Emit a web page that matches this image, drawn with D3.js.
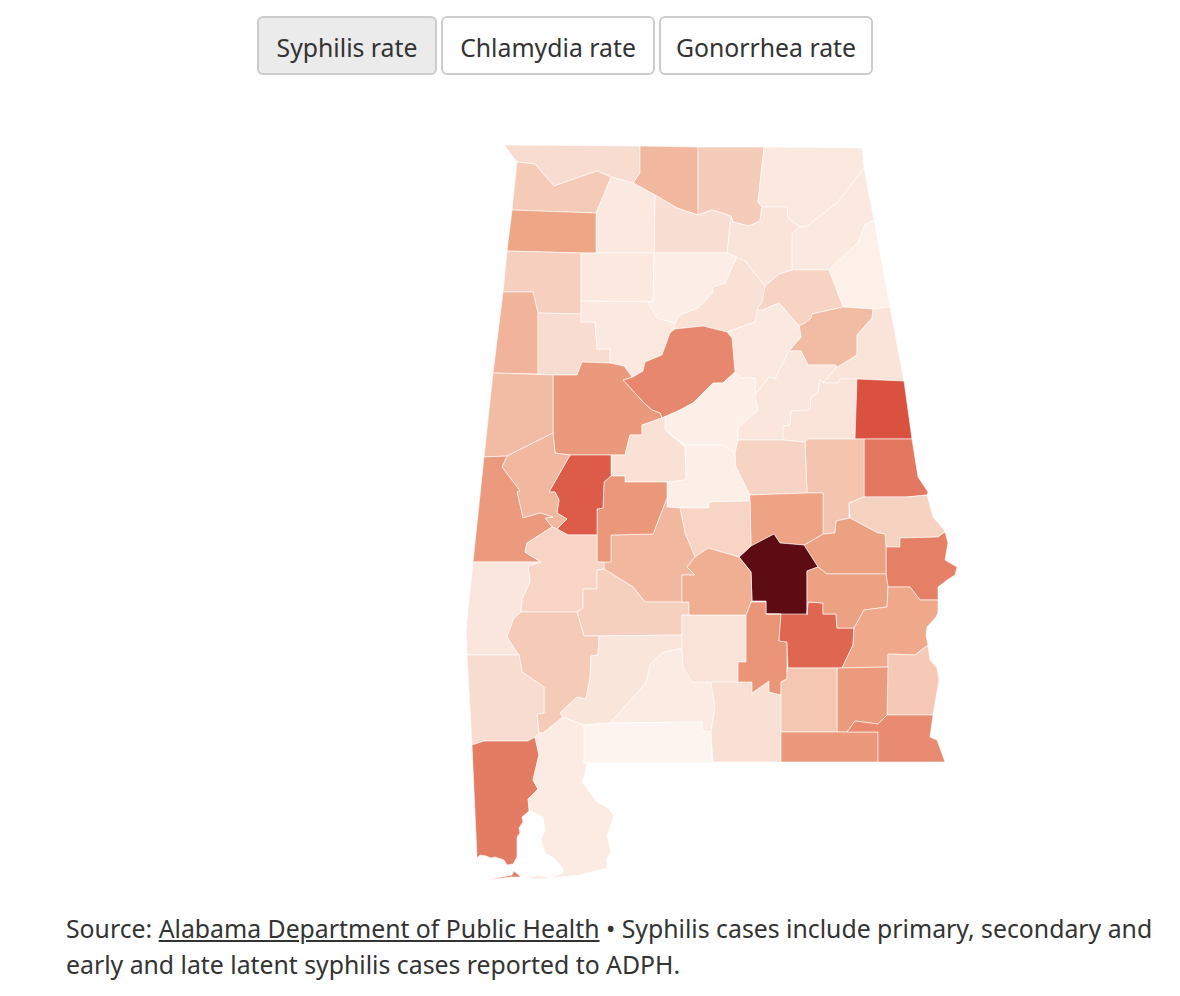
<!DOCTYPE html>
<html>
<head>
<meta charset="utf-8">
<script src="https://cdn.jsdelivr.net/npm/d3@7"></script>
<style>
  body { margin: 0; background: #fff; color: #333; font-family: "Noto Sans", sans-serif; }
  #page { position: relative; width: 1180px; height: 996px; overflow: hidden; }
  #map { position: absolute; left: 0; top: 0; }
  .tab {
    position: absolute; top: 16px; height: 59px; box-sizing: border-box;
    border: 2px solid #ccc; border-radius: 6px; background: #fff;
    color: #333; font: 24.8px "Noto Sans", sans-serif;
    text-align: center; line-height: 58px;
  }
  .tab.active { background: #ebebeb; }
  #note {
    position: absolute; left: 66px; top: 910px; width: 1100px;
    font-size: 24.8px; line-height: 36px; white-space: nowrap;
  }
  #note a { color: #333; text-decoration: underline; }
</style>
</head>
<body>
<div id="page"><svg id="map" width="1180" height="996"></svg><div id="note"></div></div>
<script>
const tabLabels = ['Syphilis rate', 'Chlamydia rate', 'Gonorrhea rate'];
const tabLefts = [257, 441, 659];
const tabWidths = [180, 214, 214];

const countyNames = [
  'Lauderdale', 'Limestone', 'Madison', 'Jackson', 'DeKalb', 'Cherokee', 'Marshall', 'Morgan', 'Lawrence', 'Colbert',
  'Franklin', 'Marion', 'Winston', 'Lamar', 'Fayette', 'Walker', 'Cullman', 'Blount', 'Etowah', 'Calhoun',
  'Cleburne', 'St. Clair', 'Jefferson', 'Tuscaloosa', 'Pickens', 'Shelby', 'Bibb', 'Chilton', 'Talladega', 'Clay',
  'Randolph', 'Chambers', 'Tallapoosa', 'Coosa', 'Lee', 'Russell', 'Macon', 'Elmore', 'Montgomery', 'Autauga',
  'Dallas', 'Perry', 'Hale', 'Greene', 'Sumter', 'Marengo', 'Choctaw', 'Wilcox', 'Clarke', 'Washington',
  'Mobile', 'Baldwin', 'Monroe', 'Conecuh', 'Escambia', 'Butler', 'Covington', 'Crenshaw', 'Pike', 'Bullock',
  'Barbour', 'Henry', 'Dale', 'Coffee', 'Geneva', 'Houston', 'Lowndes'
];

const syphilisRates = [
  6.3, 15.3, 10.3, 3, 3, 1.3, 4.5, 5.5, 3, 10.8,
  19.8, 9.5, 3, 16.5, 6.3, 3, 1.8, 5, 8.5, 14.3,
  4.3, 3, 26.9, 22.8, 14.5, 1.5, 5, 1.5, 3.8, 4.5,
  39.3, 30.6, 12.3, 8.5, 8.8, 28.7, 20.9, 20.5, 100, 8.3,
  15.3, 23.2, 36.8, 15.3, 22.5, 8.3, 3.8, 9.3, 10.8, 6.3,
  29.4, 2.5, 4, 2.5, 0.2, 4.8, 5.3, 23.7, 34.3, 20.9,
  19.3, 11, 22.5, 11.5, 23, 26, 17.5
];

const rampStops = [0, 20, 40, 100];
const rampColours = ['#fdf5f0', '#eea586', '#d94e3d', '#5c0c12'];

// county outlines on a quantized grid, one list of rings per county, same order as countyNames
const countyOutlines = [
  [[[504,145],[640,146],[640,173],[633,183],[611,177],[597,171],[554,186],[535,164],[517,162]]],
  [[[640,146],[698,147],[698,215],[677,208],[655,195],[633,183],[640,173]]],
  [[[698,147],[764,147],[758,202],[762,207],[760,221],[749,226],[733,222],[731,216],[712,210],[698,215]]],
  [[[764,147],[862,148],[864,168],[837,203],[807,226],[799,227],[788,218],[787,207],[762,207],[758,202]]],
  [[[864,168],[874,220],[865,225],[858,242],[829,270],[792,270],[792,234],[799,227],[807,226],[837,203]]],
  [[[874,220],[890,307],[873,309],[843,307],[829,270],[858,242],[865,225]]],
  [[[733,222],[749,226],[760,221],[762,207],[787,207],[788,218],[799,227],[792,234],[792,270],[779,274],[765,286],[745,261],[727,253],[731,216]]],
  [[[655,195],[677,208],[698,215],[712,210],[731,216],[727,253],[654,253]]],
  [[[611,177],[633,183],[655,195],[654,253],[596,253],[596,213]]],
  [[[517,162],[535,164],[554,186],[597,171],[611,177],[596,213],[512,210]]],
  [[[512,210],[596,213],[596,253],[581,253],[507,251]]],
  [[[507,251],[581,253],[581,314],[538,313],[533,292],[503,292]]],
  [[[581,253],[596,253],[654,253],[653,302],[581,301]]],
  [[[503,292],[533,292],[538,313],[538,374],[493,373]]],
  [[[538,313],[581,314],[581,322],[595,322],[597,349],[610,349],[610,363],[582,362],[577,375],[553,375],[538,374]]],
  [[[581,301],[653,302],[648,302],[657,318],[675,323],[676,330],[670,333],[662,355],[645,362],[643,371],[632,377],[624,366],[610,363],[610,349],[597,349],[595,322],[581,322]]],
  [[[654,253],[727,253],[737,257],[725,283],[713,287],[713,292],[698,308],[680,315],[675,323],[657,318],[648,302],[653,302]]],
  [[[737,257],[745,261],[765,286],[762,302],[757,310],[762,311],[755,322],[727,332],[703,326],[675,329],[675,323],[680,315],[698,308],[713,292],[713,287],[725,283]]],
  [[[765,286],[779,274],[792,270],[829,270],[843,307],[812,314],[811,318],[805,323],[799,326],[779,303],[762,310],[757,310],[762,302]]],
  [[[843,307],[873,309],[872,318],[857,335],[857,355],[836,368],[836,365],[808,365],[801,351],[789,351],[801,337],[799,326],[805,323],[811,318],[812,314]]],
  [[[873,309],[890,307],[904,381],[857,379],[840,379],[838,383],[823,383],[836,368],[857,355],[857,335],[872,318]]],
  [[[727,332],[755,322],[757,310],[762,310],[779,303],[799,326],[801,337],[789,351],[775,379],[769,377],[755,395],[755,378],[742,378],[735,372],[732,338]]],
  [[[703,326],[727,332],[732,338],[735,372],[723,383],[713,383],[693,403],[680,410],[662,418],[660,413],[652,410],[644,403],[623,380],[633,377],[643,371],[645,362],[662,355],[670,333],[675,329]]],
  [[[553,375],[577,375],[582,362],[610,363],[624,366],[632,377],[623,380],[644,403],[652,410],[660,413],[662,418],[642,425],[642,435],[630,435],[625,455],[570,455],[555,453],[553,433]]],
  [[[493,373],[553,375],[553,433],[507,456],[484,457]]],
  [[[662,418],[680,410],[693,403],[713,383],[723,383],[735,372],[742,378],[755,378],[755,395],[758,410],[738,428],[738,440],[735,453],[723,445],[685,445],[665,430],[665,418]]],
  [[[662,418],[665,418],[665,430],[685,447],[686,480],[667,482],[625,482],[625,476],[611,476],[611,455],[625,455],[630,435],[642,435],[642,425]]],
  [[[685,445],[723,445],[735,453],[736,467],[745,485],[750,495],[750,501],[709,502],[709,508],[680,508],[667,507],[667,482],[686,480]]],
  [[[789,351],[801,351],[808,365],[836,365],[836,368],[823,383],[820,379],[818,393],[811,397],[810,410],[791,411],[790,425],[783,426],[783,440],[738,440],[738,428],[758,410],[755,395],[769,377],[775,379]]],
  [[[823,383],[838,383],[840,379],[857,379],[855,439],[808,439],[805,442],[783,440],[783,426],[790,425],[791,411],[810,410],[811,397],[818,393],[820,379]]],
  [[[857,379],[904,381],[912,439],[855,439]]],
  [[[864,439],[912,439],[918,477],[928,492],[927,495],[907,497],[864,497]]],
  [[[805,442],[808,439],[864,439],[864,497],[849,503],[849,518],[836,521],[835,533],[823,534],[823,493],[807,493]]],
  [[[738,440],[783,440],[805,442],[807,493],[750,495],[745,485],[736,467],[735,453]]],
  [[[849,503],[864,497],[907,497],[927,495],[933,517],[945,531],[938,537],[900,538],[900,547],[886,547],[885,534],[878,533],[850,518]]],
  [[[886,547],[900,547],[900,538],[938,537],[945,532],[948,543],[945,560],[957,567],[955,575],[947,580],[938,587],[938,600],[920,600],[910,587],[888,587],[886,574]]],
  [[[823,534],[835,533],[836,521],[850,518],[878,533],[885,534],[886,547],[886,574],[827,574],[818,567],[804,545]]],
  [[[750,495],[807,493],[823,493],[823,534],[804,545],[780,543],[774,534],[751,546],[750,501]]],
  [[[774,534],[780,543],[804,545],[818,567],[807,571],[807,615],[766,614],[766,601],[752,601],[751,572],[739,557],[751,546]]],
  [[[680,508],[709,508],[709,502],[750,501],[751,546],[739,557],[708,548],[695,557],[685,533]]],
  [[[667,507],[680,508],[685,533],[695,557],[687,567],[695,575],[682,575],[682,602],[645,602],[633,587],[604,569],[604,562],[611,562],[611,535],[653,534],[667,498]]],
  [[[604,482],[611,476],[625,476],[625,482],[667,482],[667,498],[653,534],[611,535],[611,562],[597,562],[597,509],[603,508]]],
  [[[570,455],[611,455],[611,476],[604,482],[603,508],[597,509],[597,535],[568,535],[557,529],[567,519],[557,513],[559,500],[555,492],[549,492]]],
  [[[553,433],[555,453],[570,455],[549,492],[555,492],[559,500],[557,513],[567,519],[557,529],[552,527],[545,518],[553,517],[540,513],[523,518],[517,492],[520,491],[502,467],[507,456]]],
  [[[484,457],[507,456],[502,467],[520,491],[517,492],[523,518],[540,513],[553,517],[545,518],[552,527],[527,543],[525,552],[541,562],[473,562]]],
  [[[552,527],[557,529],[568,535],[597,535],[597,562],[604,562],[604,569],[597,570],[597,589],[583,589],[583,608],[577,612],[521,612],[522,599],[530,582],[528,566],[541,562],[525,552],[527,543]]],
  [[[473,562],[541,562],[528,566],[530,582],[522,599],[521,612],[514,618],[507,637],[519,655],[467,655],[466,630]]],
  [[[597,570],[604,569],[633,587],[645,602],[682,602],[689,602],[689,615],[682,615],[682,635],[599,636],[584,636],[577,612],[583,608],[583,589],[597,589]]],
  [[[521,612],[577,612],[584,636],[599,636],[598,655],[591,656],[590,678],[586,699],[577,697],[560,713],[563,717],[543,733],[539,733],[537,714],[544,713],[544,687],[522,672],[519,655],[507,637],[514,618]]],
  [[[467,655],[519,655],[522,672],[544,687],[544,713],[537,714],[539,733],[535,737],[528,741],[484,741],[472,745]]],
  [[[472,745],[484,741],[528,741],[535,737],[539,755],[533,780],[538,789],[528,799],[529,811],[522,817],[523,822],[519,828],[520,833],[517,837],[517,857],[513,864],[507,865],[504,860],[495,857],[491,858],[486,856],[480,855],[477,858]],
   [[487,880],[512,875],[514,871],[521,877],[511,877]]],
  [[[535,737],[539,733],[543,733],[563,717],[584,725],[584,763],[587,763],[586,770],[582,782],[597,802],[607,807],[614,815],[607,836],[611,852],[607,858],[607,868],[580,875],[540,879],[527,879],[538,875],[550,878],[563,873],[563,868],[554,858],[545,853],[541,840],[545,830],[543,817],[530,811],[528,799],[538,789],[533,780],[539,755]]],
  [[[599,636],[682,635],[682,648],[662,653],[650,665],[646,683],[610,723],[584,725],[563,717],[560,713],[577,697],[586,699],[590,678],[591,656],[598,655]]],
  [[[682,648],[683,665],[692,682],[711,682],[715,706],[711,732],[702,731],[702,722],[610,723],[646,683],[650,665],[662,653]]],
  [[[584,725],[610,723],[702,722],[702,731],[711,732],[712,763],[584,763]]],
  [[[682,615],[746,615],[746,662],[738,662],[738,682],[692,682],[683,667],[682,648]]],
  [[[711,682],[738,682],[752,682],[752,693],[769,681],[769,692],[781,695],[781,762],[713,762],[711,732],[715,707]]],
  [[[746,615],[751,602],[766,602],[766,614],[781,614],[779,641],[787,642],[787,679],[781,682],[781,695],[769,692],[769,681],[752,693],[752,682],[738,682],[738,662],[746,662]]],
  [[[766,614],[807,614],[808,602],[823,603],[823,614],[836,614],[837,628],[854,628],[853,645],[842,668],[788,668],[787,642],[779,641],[781,614]]],
  [[[807,571],[818,567],[827,574],[886,574],[888,587],[887,607],[864,610],[854,628],[837,628],[836,614],[823,614],[823,603],[808,602],[807,615]]],
  [[[888,587],[910,587],[920,600],[938,600],[938,612],[936,617],[927,627],[926,635],[928,645],[915,655],[888,654],[888,667],[842,668],[853,645],[854,628],[864,610],[887,607]]],
  [[[888,654],[915,655],[928,645],[930,660],[937,668],[939,680],[933,715],[887,715]]],
  [[[837,668],[888,667],[887,715],[878,724],[855,721],[847,732],[837,732]]],
  [[[787,668],[837,668],[837,732],[781,732],[781,682],[787,679]]],
  [[[781,732],[847,732],[878,732],[878,762],[781,762]]],
  [[[847,732],[855,721],[878,724],[887,715],[933,715],[930,737],[937,740],[945,762],[878,762],[878,732]]],
  [[[708,548],[739,557],[751,572],[752,601],[751,602],[746,615],[689,615],[689,602],[682,602],[682,575],[695,575],[687,567],[695,557]]]
];

const noteStart = 'Source: ';
const noteLink = 'Alabama Department of Public Health';
const noteRest = ' • Syphilis cases include primary, secondary and';
const noteLine2 = 'early and late latent syphilis cases reported to ADPH.';

const page = d3.select('#page');

// Boutons
page.selectAll('.tab')
  .data(tabLabels)
  .enter()
  .append('div')
  .attr('class', (d, i) => i === 0 ? 'tab active' : 'tab')
  .style('left', (d, i) => tabLefts[i] + 'px')
  .style('width', (d, i) => tabWidths[i] + 'px')
  .text(d => d);

// Carte - geoStream wants closed rings
const counties = {
  type: 'FeatureCollection',
  features: countyNames.map((name, i) => ({
    type: 'Feature',
    properties: { name: name, rate: syphilisRates[i] },
    geometry: { type: 'MultiPolygon', coordinates: countyOutlines[i].map(ring => [ring.concat([ring[0]])]) }
  }))
};

const projection = d3.geoIdentity().fitExtent([[466, 145], [957, 880]], counties);
const path = d3.geoPath(projection);
const colour = d3.scaleLinear().domain(rampStops).range(rampColours);

d3.select('#map').append('g')
  .selectAll('path')
  .data(counties.features)
  .enter()
  .append('path')
  .attr('d', path)
  .attr('fill', d => colour(d.properties.rate))
  .attr('stroke', '#fff')
  .attr('stroke-opacity', 0.6)
  .attr('stroke-width', 1)
  .attr('stroke-linejoin', 'round')
  .append('title')
  .text(d => d.properties.name);

// Note de bas de page
const note = d3.select('#note');
note.append('span').text(noteStart);
note.append('a').attr('href', '#').text(noteLink);
note.append('span').text(noteRest);
note.append('br');
note.append('span').text(noteLine2);
</script>
</body>
</html>
